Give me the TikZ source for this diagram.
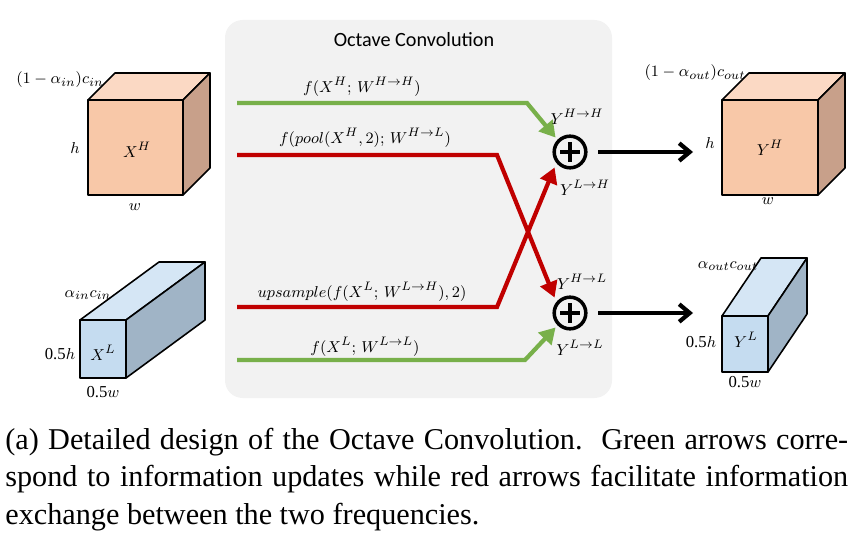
\documentclass[tikz,border=0pt]{standalone}
\usepackage{fontspec}
\setmainfont{Liberation Serif}
\newfontfamily\calfont{Carlito}
\usetikzlibrary{arrows.meta}
\definecolor{gcol}{RGB}{120,176,74}
\definecolor{rcol}{RGB}{192,0,0}
\definecolor{pfront}{RGB}{248,200,168}\definecolor{ptop}{RGB}{251,217,196}\definecolor{pside}{RGB}{200,160,138}
\definecolor{bfront}{RGB}{197,220,240}\definecolor{btop}{RGB}{213,230,245}\definecolor{bside}{RGB}{160,180,198}
\definecolor{panel}{RGB}{242,242,242}
\begin{document}
\begin{tikzpicture}[x=0.02cm,y=-0.02cm,
  lbl/.style={font=\fontsize{9.5}{10}\selectfont,inner sep=1pt},
  gline/.style={line width=2.4pt,gcol,-{Triangle[length=9pt,width=10pt]}},
  rline/.style={line width=2.4pt,rcol,-{Triangle[length=9pt,width=10pt]}},
  karrow/.style={line width=2.4pt,black,-{Straight Barb[length=6pt,width=10pt]}},
  edge/.style={draw=black,line width=0.9pt,line join=round},
  plus/.style={circle,draw,line width=2pt,minimum size=18pt,inner sep=0}]
\useasboundingbox (0,0) rectangle (861,540);
\fill[rounded corners=10pt,fill=panel] (225,20) rectangle (612,398);
\node[font=\calfont\fontsize{11.5}{12}\selectfont] (title) at (414,40) {Octave Convolution};
\def\cube#1#2#3#4#5#6#7#8#9{%
  \filldraw[edge,fill=#7] (#1,#2) -- (#1+#5,#2+#6) -- (#3+#5,#2+#6) -- (#3,#2) -- cycle;
  \filldraw[edge,fill=#8] (#3,#2) -- (#3+#5,#2+#6) -- (#3+#5,#4+#6) -- (#3,#4) -- cycle;
  \filldraw[edge,fill=#9] (#1,#2) rectangle (#3,#4);}
\cube{88}{100}{183}{195}{27}{-27}{ptop}{pside}{pfront}
\cube{80}{320}{126}{378}{79}{-58}{btop}{bside}{bfront}
\cube{722}{100}{818}{195}{27}{-27}{ptop}{pside}{pfront}
\cube{722}{316}{768}{372}{39}{-58}{btop}{bside}{bfront}
\node[lbl] (l1) at (60,80) {$(1-\alpha_{in})c_{in}$};
\node[lbl] (l2) at (75,148) {$h$};
\node[lbl] (l3) at (137,150) {$X^H$};
\node[lbl] (l4) at (135,207) {$w$};
\node[lbl] (l5) at (88,295) {$\alpha_{in}c_{in}$};
\node[lbl] (l6) at (60,354) {0.5$h$};
\node[lbl] (l7) at (103,353) {$X^L$};
\node[lbl] (l8) at (103,392) {0.5$w$};
\node[lbl] (r1) at (695,73) {$(1-\alpha_{out})c_{out}$};
\node[lbl] (r2) at (710,143) {$h$};
\node[lbl] (r3) at (770,148) {$Y^H$};
\node[lbl] (r4) at (768,201) {$w$};
\node[lbl] (r5) at (728,266) {$\alpha_{out}c_{out}$};
\node[lbl] (r6) at (701,342) {0.5$h$};
\node[lbl] (r7) at (746,340) {$Y^L$};
\node[lbl] (r8) at (745,382) {0.5$w$};
\node[plus] (p1) at (570,152) {};
\node[plus] (p2) at (570,313) {};
\foreach \p in {p1,p2}{\draw[line width=2.2pt] ([xshift=-5.5pt]\p.center) -- ([xshift=5.5pt]\p.center);
 \draw[line width=2.2pt] ([yshift=-5.5pt]\p.center) -- ([yshift=5.5pt]\p.center);}
\coordinate (a1) at (237,103); \coordinate (a2) at (237,155);
\coordinate (a3) at (237,307); \coordinate (a4) at (237,360);
\draw[gline] (a1) -- (527,103) -- ([shift={(-2,-2)}]p1.north west);
\draw[rline] (a2) -- (497,155) -- ([shift={(-3,-3)}]p2.north west);
\draw[rline] (a3) -- (497,307) -- ([shift={(-3,3)}]p1.south west);
\draw[gline] (a4) -- (525,360) -- ([shift={(-2,2)}]p2.south west);
\coordinate (o1) at (693,152); \coordinate (o2) at (693,313);
\draw[karrow] ([xshift=6]p1.east) -- (o1);
\draw[karrow] ([xshift=6]p2.east) -- (o2);
\node[lbl] (f1) at (362,87) {$f(X^H;\,W^{H\to H})$};
\node[lbl] (f2) at (365,138) {$f(pool(X^H,2);\,W^{H\to L})$};
\node[lbl] (f3) at (362,292) {$upsample(f(X^L;\,W^{L\to H}),2)$};
\node[lbl] (f4) at (365,347) {$f(X^L;\,W^{L\to L})$};
\node[lbl] (y1) at (577,117) {$Y^{H\to H}$};
\node[lbl] (y2) at (585,188) {$Y^{L\to H}$};
\node[lbl] (y3) at (582,282) {$Y^{H\to L}$};
\node[lbl] (y4) at (580,348) {$Y^{L\to L}$};
\node[anchor=north west,inner sep=0,text width=16.86cm,align=justify,font=\fontsize{17.2}{21.2}\selectfont] (cap) at (5,428)
{(a) Detailed design of the Octave Convolution.\ \ Green arrows correspond to information updates while red arrows facilitate information exchange between the two frequencies.};
\end{tikzpicture}
\end{document}
